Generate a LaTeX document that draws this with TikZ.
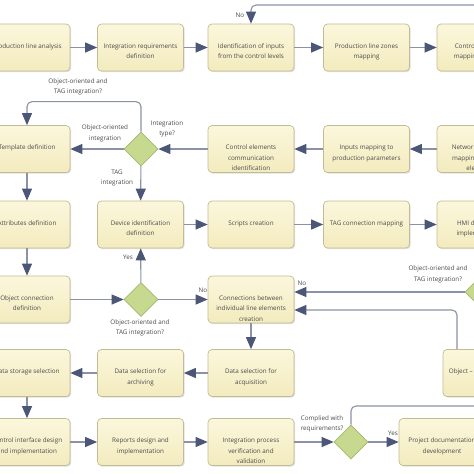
\documentclass[tikz,border=0pt]{standalone}
\usepackage{fontspec}
\setmainfont{Open Sans}
\usetikzlibrary{arrows.meta}
\usetikzlibrary{shapes.geometric}
\usetikzlibrary{shadows}
\definecolor{boxtop}{HTML}{FBF7DC}
\definecolor{boxbot}{HTML}{F3EBBE}
\definecolor{boxline}{HTML}{C4BB93}
\definecolor{gatefill}{HTML}{C6D98F}
\definecolor{gateline}{HTML}{A2B86E}
\definecolor{wire}{HTML}{8C92A6}
\definecolor{tipcol}{HTML}{4C5777}
\definecolor{txt}{HTML}{4A4A4A}
\tikzset{
  task/.style={draw=boxline, line width=0.7pt, top color=boxtop, bottom color=boxbot,
    rounded corners=4pt, minimum width=86pt, minimum height=47pt, inner xsep=4pt,
    text height=4.5pt, text depth=3.3pt, text=txt,
    drop shadow={shadow xshift=1.2pt, shadow yshift=-1.2pt, fill=black!30, opacity=0.4}},
  gate/.style={diamond, draw=gateline, line width=0.7pt, fill=gatefill, minimum width=34pt,
    minimum height=34pt, inner sep=0pt},
  note/.style={align=center, inner sep=0pt, text=txt},
  wireline/.style={draw=wire, line width=1.1pt},
  flow/.style={wireline, -{Triangle[length=12pt,width=10pt,color=tipcol]}}
}
\newcommand{\tasknode}[4]{\node[task] (#1) at (#2,#3) {\parbox[t]{78pt}{\centering #4}};}
\newcommand{\gatenode}[3]{\node[gate] (#1) at (#2,#3) {};}

\begin{document}
\begin{tikzpicture}[x=1pt, y=-1pt, font=\fontsize{6.3}{10.5}\selectfont]
        \fill[white] (0,0) rectangle (474,474);
        \useasboundingbox (0,0) rectangle (474,474);

        %nodes
        \tasknode{ana}{27}{47.5}{Production line analysis}
        \tasknode{req}{140.5}{47.5}{Integration requirements\\definition}
        \tasknode{inp}{251}{47.5}{Identification of inputs\\from the control levels}
        \tasknode{zon}{366.5}{47.5}{Production line zones\\mapping}
        \tasknode{ctm}{480}{47.5}{Control elements\\mapping to zones}

        \tasknode{tpl}{27}{149}{Template definition}
        \gatenode{typ}{141}{149}
        \tasknode{com}{251}{149}{Control elements\\communication\\identification}
        \tasknode{par}{366.5}{149}{Inputs mapping to\\production parameters}
        \tasknode{net}{480}{149}{Network addresses\\mapping of control\\elements}

        \tasknode{att}{27}{224.5}{Attributes definition}
        \tasknode{dev}{140.5}{224.5}{Device identification\\definition}
        \tasknode{scr}{251}{224.5}{Scripts creation}
        \tasknode{tag}{366.5}{224.5}{TAG connection mapping}
        \tasknode{hmi}{480}{224.5}{HMI design and\\implementation}

        \tasknode{obj}{27}{299.5}{Object connection\\definition}
        \gatenode{both}{141}{299.5}
        \tasknode{con}{251}{299.5}{Connections between\\individual line elements\\creation}
        \gatenode{bothr}{482}{292}

        \tasknode{sto}{27}{373}{Data storage selection}
        \tasknode{arc}{140.5}{373}{Data selection for\\archiving}
        \tasknode{acq}{251}{373}{Data selection for\\acquisition}
        \tasknode{otc}{486}{373}{Object -- TAG connections\\creation}

        \tasknode{gui}{27}{442}{Control interface design\\and implementation}
        \tasknode{rep}{140.5}{442}{Reports design and\\implementation}
        \tasknode{val}{251}{442}{Integration process\\verification and\\validation}
        \gatenode{ok}{351}{442}
        \tasknode{doc}{442}{442}{Project documentation\\development}

        %labels
        \node[note] (lobjtag) at (78,87) {Object-oriented and\\TAG integration?};
        \node[note] (lobj) at (105,133.5) {Object-oriented\\integration};
        \node[note] (ltyp) at (167,129) {Integration\\type?};
        \node[note] (ltag) at (117,178) {TAG\\integration};
        \node[note] (lyes) at (128,257) {Yes};
        \node[note] (lno) at (203,290) {No};
        \node[note] (lboth) at (140,328) {Object-oriented and\\TAG integration?};
        \node[note] (lnor) at (302,283) {No};
        \node[note] (lbothr) at (438,274.5) {Object-oriented and\\TAG integration?};
        \node[note] (lnotop) at (240,15) {No};
        \node[note] (lok) at (322,424) {Complied with\\requirements?};
        \node[note] (lyesok) at (393,433) {Yes};

        \coordinate (topin) at (474,5);
        \coordinate (okout) at (474,406);

        %edges
        \draw[flow] (ana) -- (req);
        \draw[flow] (req) -- (inp);
        \draw[flow] (inp) -- (zon);
        \draw[flow] (zon) -- (ctm);
        \draw[flow, rounded corners=5pt] (topin) -| (inp.north);

        \draw[flow] (net) -- (par);
        \draw[flow] (par) -- (com);
        \draw[flow] (com) -- (typ);
        \draw[flow] (typ) -- (tpl);
        \draw[flow, rounded corners=5pt] (typ.north) -- ++(0,-30) -| (tpl.north);
        \draw[flow] (typ) -- (dev);

        \draw[flow] (tpl) -- (att);
        \draw[flow] (att) -- (obj);
        \draw[flow] (dev) -- (scr);
        \draw[flow] (scr) -- (tag);
        \draw[flow] (tag) -- (hmi);

        \draw[flow] (obj) -- (both);
        \draw[flow] (both) -- (dev);
        \draw[flow] (both) -- (con);
        \draw[flow] (bothr.west) -- (bothr.west -| con.east);
        \draw[flow, rounded corners=5pt] ([xshift=-29pt]otc.north) |- ([yshift=-10.5pt]con.east);

        \draw[flow] (con) -- (acq);
        \draw[flow] (acq) -- (arc);
        \draw[flow] (arc) -- (sto);
        \draw[flow] (sto) -- (gui);
        \draw[flow] (gui) -- (rep);
        \draw[flow] (rep) -- (val);
        \draw[flow] (val) -- (ok);
        \draw[flow] (ok) -- (doc);
        \draw[wireline, rounded corners=5pt] (ok.north) |- (okout);
\end{tikzpicture}
\end{document}
